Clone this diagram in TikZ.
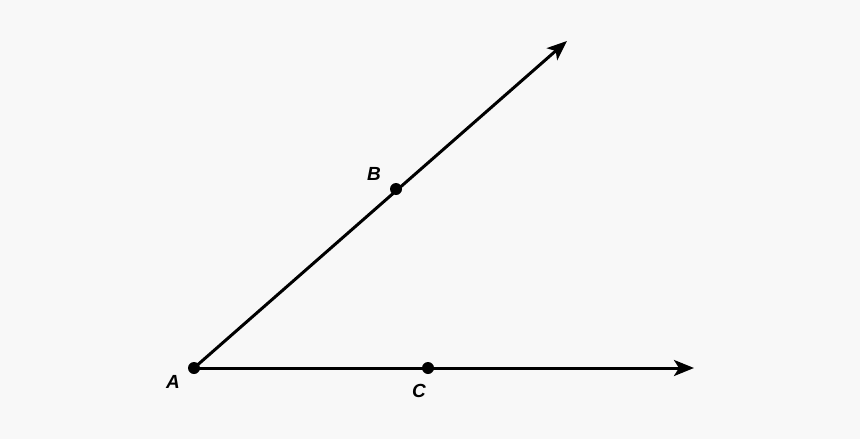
\documentclass[tikz,border=0pt]{standalone}
\usepackage{fontspec}
\setmainfont{Liberation Sans}
\usetikzlibrary{arrows.meta}
\begin{document}
\begin{tikzpicture}[x=1pt,y=-1pt,
  ray/.style={line width=3pt,-{Stealth[length=20pt,width=16pt,inset=5pt]}},
  pt/.style={circle,fill=black,inner sep=0pt,minimum size=12pt},
  lbl/.style={font=\fontsize{19}{19}\selectfont\bfseries\itshape,inner sep=0pt}]
\fill[fill={rgb,255:red,248;green,248;blue,248}] (0,0) rectangle (860,439);
\useasboundingbox (0,0) rectangle (860,439);
\node[pt] (A) at (194,368) {};
\node[pt] (B) at (396,189) {};
\node[pt] (C) at (428,368) {};
\coordinate (Bend) at (567,41);
\coordinate (Cend) at (694,368);
\draw[ray] (A.center) -- (Bend);
\draw[ray] (A.center) -- (Cend);
\node[lbl] (la) at (173,382) {A};
\node[lbl] (lb) at (374,174) {B};
\node[lbl] (lc) at (419,391) {C};
\end{tikzpicture}
\end{document}
